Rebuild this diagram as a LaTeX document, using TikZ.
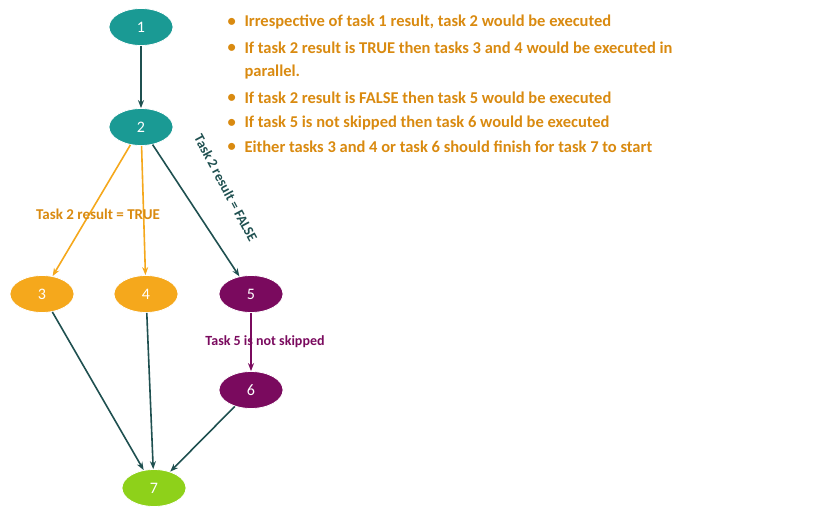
\documentclass[tikz,border=0pt]{standalone}
\usepackage{fontspec}
\setmainfont{Carlito}
\usetikzlibrary{shapes.geometric,arrows.meta}
\definecolor{teal1}{HTML}{1A9A94}
\definecolor{orng}{HTML}{F5A81C}
\definecolor{purp}{HTML}{7A0A5E}
\definecolor{grn}{HTML}{8ED11A}
\definecolor{dkteal}{HTML}{1F5050}
\definecolor{txtor}{HTML}{D98A10}
\begin{document}
\begin{tikzpicture}[x=1pt,y=-1pt,
 task/.style={ellipse,minimum width=64pt,minimum height=37pt,draw=white,line width=0.8pt,text=white,font=\fontsize{16}{18}\selectfont},
 conn/.style={-{Stealth[length=8pt,width=6pt]},line width=1.6pt,draw=dkteal},
 bul/.style={anchor=west,text=txtor,font=\bfseries\fontsize{16.5}{19}\selectfont}]
\useasboundingbox (0,0) rectangle (831,531);
\node[task,fill=teal1] (n1) at (141,27) {1};
\node[task,fill=teal1] (n2) at (141,127) {2};
\node[task,fill=orng] (n3) at (42,294) {3};
\node[task,fill=orng] (n4) at (146,294) {4};
\node[task,fill=purp] (n5) at (251,294) {5};
\node[task,fill=purp] (n6) at (251,390) {6};
\node[task,fill=grn] (n7) at (154,488) {7};
\draw[conn] (n1) -- (n2);
\draw[conn,draw=orng] (n2) -- (n3);
\draw[conn,draw=orng] (n2) -- (n4);
\draw[conn] (n2) -- (n5);
\draw[conn,draw=purp] (n5) -- (n6);
\draw[conn] (n3) -- (n7);
\draw[conn] (n4) -- (n7);
\draw[conn] (n6) -- (n7);
\node[text=dkteal,font=\bfseries\fontsize{14}{16}\selectfont,rotate=-62] (l25) at (226,188) {Task 2 result = FALSE};
\node[text=txtor,font=\bfseries\fontsize{15}{17}\selectfont] (l23) at (98,214) {Task 2 result = TRUE};
\node[text=purp,font=\bfseries\fontsize{14}{16}\selectfont] (l56) at (265,342) {Task 5 is not skipped};
\node[bul] (b1) at (224,22) {\textbullet};
\node[bul] (t1) at (241,22) {Irrespective of task 1 result, task 2 would be executed};
\node[bul] (b2) at (224,48) {\textbullet};
\node[bul] (t2) at (241,48) {If task 2 result is TRUE then tasks 3 and 4 would be executed in};
\node[bul] (t2b) at (241,72) {parallel.};
\node[bul] (b3) at (224,98) {\textbullet};
\node[bul] (t3) at (241,98) {If task 2 result is FALSE then task 5 would be executed};
\node[bul] (b4) at (224,123) {\textbullet};
\node[bul] (t4) at (241,123) {If task 5 is not skipped then task 6 would be executed};
\node[bul] (b5) at (224,147) {\textbullet};
\node[bul] (t5) at (241,147) {Either tasks 3 and 4 or task 6 should finish for task 7 to start};
\end{tikzpicture}
\end{document}
